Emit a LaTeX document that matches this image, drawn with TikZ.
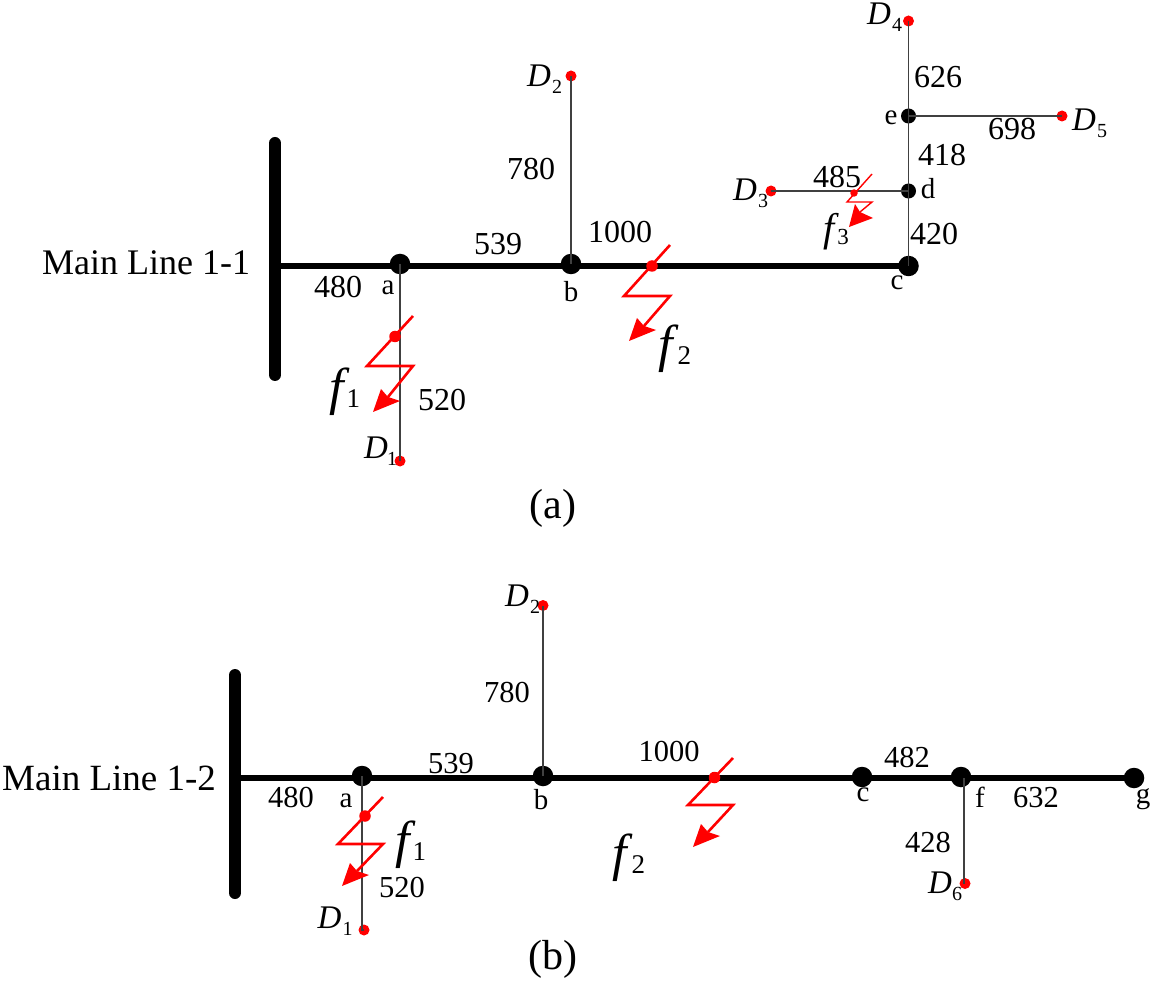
\documentclass[tikz,border=0pt]{standalone}
\usepackage{fontspec}
\setmainfont{Liberation Serif}
\usetikzlibrary{calc}
\newcommand{\fsz}[1]{\fontsize{#1}{#1}\selectfont}
\newcommand{\symsub}[5]{{\fsz{#3}\itshape #1}\kern#5pt\raisebox{-#4pt}{\fsz{\subsz}#2}}
\def\subsz{20}
\newcommand{\faulthead}[1]{\fill[red,shift={(#1)}] (0,0) -- (27,-11) -- (15,-15) -- (8,-23) -- cycle;}
\newcommand{\smallhead}[1]{\fill[red,shift={(#1)}] (0,0) -- (24,-9) -- (11,-15) -- (6,-23) -- cycle;}
\tikzset{
  busbar/.style={line width=12pt,line cap=round},
  mainline/.style={line width=5.5pt},
  branch/.style={line width=1.2pt,black!75},
  bignode/.style={circle,fill=black,inner sep=0pt,minimum size=20.5pt},
  smallnode/.style={circle,fill=black,inner sep=0pt,minimum size=15pt},
  loadnode/.style={circle,fill=red,inner sep=0pt,minimum size=11pt},
  faultdot/.style={circle,fill=red,inner sep=0pt,minimum size=11.5pt},
  val/.style={anchor=base,inner sep=0pt,font=\fsz{32}},
  val2/.style={anchor=base,inner sep=0pt,font=\fsz{30.5}},
  letter/.style={anchor=base,inner sep=0pt,font=\fsz{29}},
  title/.style={anchor=base west,inner sep=0pt,font=\fsz{36}},
  captiontext/.style={anchor=base,inner sep=0pt,font=\fsz{42}},
  sym/.style={anchor=base west,inner sep=0pt},
  bolt/.style={red,line width=2.6pt,line join=miter},
  thinbolt/.style={red,line width=1.4pt,line join=miter},
}
\begin{document}
\begin{tikzpicture}[x=1pt,y=-1pt]
\useasboundingbox (0,0) rectangle (1154,981);
% ---------- (a) ----------
\coordinate (A1) at (275,143);
\coordinate (A2) at (275,375);
\coordinate (Aj) at (275,266);
\node[bignode] (Aa) at (400,264) {};
\node[bignode] (Ab) at (571,264) {};
\node[bignode] (Ac) at (908.5,266) {};
\node[smallnode] (Ad) at (908.5,191) {};
\node[smallnode] (Ae) at (908.5,116) {};
\node[loadnode] (AD1) at (400,461) {};
\node[loadnode] (AD2) at (571,76) {};
\node[loadnode] (AD3) at (771,191) {};
\node[loadnode] (AD4) at (908.5,21) {};
\node[loadnode] (AD5) at (1062,116) {};
\draw[busbar] (A1) -- (A2);
\draw[mainline] (Aj) -- (Ac.center |- Aj);
\draw[branch] (Aa.center) -- (AD1.center);
\draw[branch] (Ab.center) -- (AD2.center);
\draw[branch] (Ac.center) -- (Ad.center);
\draw[branch] (Ad.center) -- (Ae.center);
\draw[branch] (Ae.center) -- (AD4.center);
\draw[branch] (Ae.center) -- (AD5.center);
\draw[branch] (Ad.center) -- (AD3.center);
% faults (a)
\coordinate (Af1a) at (413,316); \coordinate (Af1b) at (367,366); \coordinate (Af1c) at (413,366); \coordinate (Af1d) at (373,412);
\coordinate (Af2a) at (670,245); \coordinate (Af2b) at (624,296); \coordinate (Af2c) at (670,296); \coordinate (Af2d) at (629,341);
\coordinate (Af3a) at (872,174); \coordinate (Af3b) at (847,202); \coordinate (Af3c) at (872,202); \coordinate (Af3d) at (849,227);
\draw[bolt] (Af1a) -- (Af1b) -- (Af1c) -- ($(Af1d)+(15,-15)$);
\draw[bolt] (Af2a) -- (Af2b) -- (Af2c) -- ($(Af2d)+(15,-15)$);
\draw[thinbolt] (Af3a) -- (Af3b) -- (Af3c) -- ($(Af3d)+(11,-15)$);
\faulthead{Af1d}
\faulthead{Af2d}
\smallhead{Af3d}
\node[faultdot] (Afd1) at (395,336.5) {};
\node[faultdot] (Afd2) at (652,266) {};
\node[faultdot,minimum size=7.5pt] (Afd3) at (854,193) {};
% labels (a)
\node[title] (At) at (42,275) {Main Line 1-1};
\node[val] (Al1) at (338,298) {480};
\node[val] (Al2) at (498,255) {539};
\node[val] (Al3) at (620,243) {1000};
\node[val] (Al4) at (531,180) {780};
\node[val] (Al5) at (442,410) {520};
\node[val] (Al6) at (938,88) {626};
\node[val] (Al7) at (1012,140) {698};
\node[val] (Al8) at (942,166) {418};
\node[val] (Al9) at (837,188) {485};
\node[val] (Al10) at (934,245) {420};
\node[letter] (Ala) at (388,295) {a};
\node[letter] (Alb) at (571,302) {b};
\node[letter] (Alc) at (897,290) {c};
\node[letter] (Ald) at (928,199) {d};
\node[letter] (Ale) at (891,125) {e};
\node[sym] (AsD1) at (364,458) {\symsub{D}{1}{33}{7}{-1}};
\node[sym] (AsD2) at (527,87) {\symsub{D}{2}{33}{7}{1}};
\node[sym] (AsD3) at (733,201) {\symsub{D}{3}{33}{7}{1}};
\node[sym] (AsD4) at (867,25) {\symsub{D}{4}{33}{7}{1}};
\node[sym] (AsD5) at (1072,131) {\symsub{D}{5}{33}{7}{1}};
\def\subsz{27}
\node[sym] (Asf1) at (329,405) {\symsub{f}{1}{52}{3}{3}};
\node[sym] (Asf2) at (658,362) {\symsub{f}{2}{52}{3}{5}};
\def\subsz{23}
\node[sym] (Asf3) at (823,242) {\symsub{f}{3}{40}{3}{3}};
\node[captiontext] (Acap) at (553,518) {(a)};
% ---------- (b) ----------
\coordinate (B1) at (235,675);
\coordinate (B2) at (235,893);
\coordinate (Bj) at (235,778);
\coordinate (Bfj) at (964,778);
\coordinate (Bfe) at (964,884);
\node[bignode] (Ba) at (362,776) {};
\node[bignode] (Bb) at (543,776) {};
\node[bignode] (Bc) at (862,777) {};
\node[bignode] (Bf) at (961,777) {};
\node[bignode] (Bg) at (1134,778) {};
\node[loadnode] (BD1) at (364,930) {};
\node[loadnode] (BD2) at (543,605.5) {};
\node[loadnode] (BD6) at (965,883.5) {};
\draw[busbar] (B1) -- (B2);
\draw[mainline] (Bj) -- (Bg.center |- Bj);
\draw[branch] (Ba.center) -- (Ba.center |- BD1.center) -- (BD1.center);
\draw[branch] (Bb.center) -- (BD2.center);
\draw[branch] (Bfj) -- (Bfe);
% faults (b)
\coordinate (Bf1a) at (383,797); \coordinate (Bf1b) at (338,844); \coordinate (Bf1c) at (383,844); \coordinate (Bf1d) at (342,886);
\coordinate (Bf2a) at (733,758); \coordinate (Bf2b) at (688,805); \coordinate (Bf2c) at (733,805); \coordinate (Bf2d) at (693,847);
\draw[bolt] (Bf1a) -- (Bf1b) -- (Bf1c) -- ($(Bf1d)+(15,-15)$);
\draw[bolt] (Bf2a) -- (Bf2b) -- (Bf2c) -- ($(Bf2d)+(15,-15)$);
\faulthead{Bf1d}
\faulthead{Bf2d}
\node[faultdot] (Bfd1) at (365,816) {};
\node[faultdot] (Bfd2) at (714.5,777.5) {};
% labels (b)
\node[title,font=\fsz{37}] (Bt) at (2,790) {Main Line 1-2};
\node[val2] (Bl1) at (291,807) {480};
\node[val2] (Bl2) at (451,773) {539};
\node[val2] (Bl3) at (669,761) {1000};
\node[val2] (Bl4) at (507,702) {780};
\node[val2] (Bl5) at (402,897) {520};
\node[val2] (Bl6) at (907,767) {482};
\node[val2] (Bl7) at (1036,807) {632};
\node[val2] (Bl8) at (928,852) {428};
\node[letter] (Bla) at (346,807) {a};
\node[letter] (Blb) at (541,809) {b};
\node[letter] (Blc) at (863,801) {c};
\node[letter] (Blf) at (980,807) {f};
\node[letter] (Blg) at (1143,803) {g};
\def\subsz{20}
\node[sym] (BsD1) at (317.5,928) {\symsub{D}{1}{33}{7}{1}};
\node[sym] (BsD2) at (505,606) {\symsub{D}{2}{33}{7}{1}};
\node[sym] (BsD6) at (928,893) {\symsub{D}{6}{33}{7}{0}};
\def\subsz{27}
\node[sym] (Bsf1) at (395,857) {\symsub{f}{1}{52}{3}{3}};
\node[sym] (Bsf2) at (612,870) {\symsub{f}{2}{52}{3}{5}};
\node[captiontext] (Bcap) at (553,969) {(b)};
\end{tikzpicture}
\end{document}
